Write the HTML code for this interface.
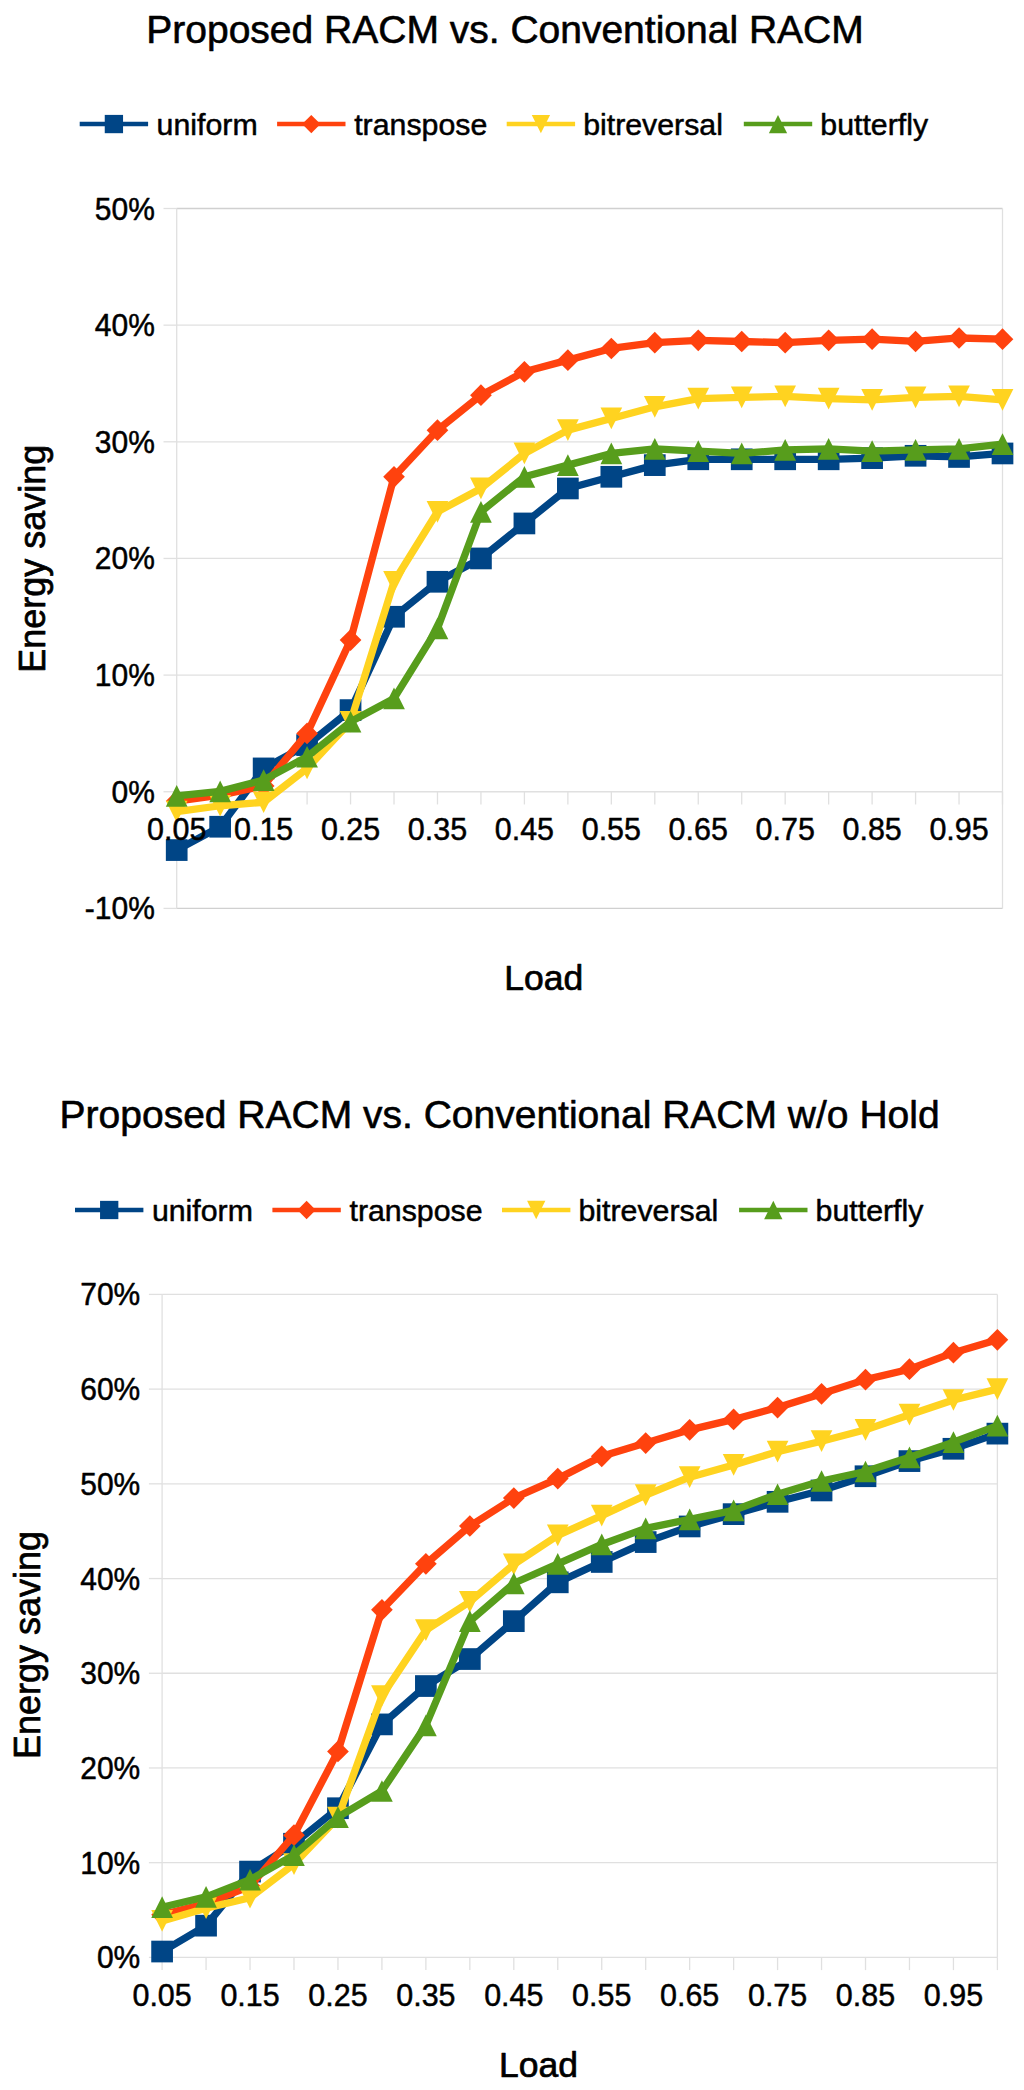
<!DOCTYPE html>
<html><head><meta charset="utf-8"><title>Energy saving charts</title>
<style>html,body{margin:0;padding:0;background:#fff}svg{display:block}text{font-family:"Liberation Sans",sans-serif;fill:#000;stroke:#000;stroke-width:0.5px;stroke-linejoin:round}.tt{stroke-width:0.6px}.ax{stroke-width:0.7px}</style>
</head><body>
<svg width="1024" height="2090" viewBox="0 0 1024 2090">
<rect width="1024" height="2090" fill="#fff"/>
<text x="505" y="42.6" font-size="39.0" class="tt" text-anchor="middle">Proposed RACM vs. Conventional RACM</text>
<line x1="163.5" y1="908.4" x2="176.7" y2="908.4" stroke="#e0e0e0" stroke-width="1.3"/>
<line x1="176.7" y1="908.4" x2="1002.5" y2="908.4" stroke="#d0d0d0" stroke-width="1.3"/>
<text transform="translate(154.8,919.4) scale(0.94,1)" font-size="31.9" text-anchor="end">-10%</text>
<line x1="163.5" y1="791.75" x2="176.7" y2="791.75" stroke="#e0e0e0" stroke-width="1.3"/>
<line x1="176.7" y1="791.75" x2="1002.5" y2="791.75" stroke="#e0e0e0" stroke-width="1.3"/>
<text transform="translate(154.8,802.75) scale(0.94,1)" font-size="31.9" text-anchor="end">0%</text>
<line x1="163.5" y1="675.1" x2="176.7" y2="675.1" stroke="#e0e0e0" stroke-width="1.3"/>
<line x1="176.7" y1="675.1" x2="1002.5" y2="675.1" stroke="#e0e0e0" stroke-width="1.3"/>
<text transform="translate(154.8,686.1) scale(0.94,1)" font-size="31.9" text-anchor="end">10%</text>
<line x1="163.5" y1="558.45" x2="176.7" y2="558.45" stroke="#e0e0e0" stroke-width="1.3"/>
<line x1="176.7" y1="558.45" x2="1002.5" y2="558.45" stroke="#e0e0e0" stroke-width="1.3"/>
<text transform="translate(154.8,569.45) scale(0.94,1)" font-size="31.9" text-anchor="end">20%</text>
<line x1="163.5" y1="441.8" x2="176.7" y2="441.8" stroke="#e0e0e0" stroke-width="1.3"/>
<line x1="176.7" y1="441.8" x2="1002.5" y2="441.8" stroke="#e0e0e0" stroke-width="1.3"/>
<text transform="translate(154.8,452.8) scale(0.94,1)" font-size="31.9" text-anchor="end">30%</text>
<line x1="163.5" y1="325.15" x2="176.7" y2="325.15" stroke="#e0e0e0" stroke-width="1.3"/>
<line x1="176.7" y1="325.15" x2="1002.5" y2="325.15" stroke="#e0e0e0" stroke-width="1.3"/>
<text transform="translate(154.8,336.15) scale(0.94,1)" font-size="31.9" text-anchor="end">40%</text>
<line x1="163.5" y1="208.5" x2="176.7" y2="208.5" stroke="#e0e0e0" stroke-width="1.3"/>
<line x1="176.7" y1="208.5" x2="1002.5" y2="208.5" stroke="#d0d0d0" stroke-width="1.3"/>
<text transform="translate(154.8,219.5) scale(0.94,1)" font-size="31.9" text-anchor="end">50%</text>
<line x1="176.7" y1="208.5" x2="176.7" y2="908.4" stroke="#e0e0e0" stroke-width="1.3"/>
<line x1="1002.5" y1="208.5" x2="1002.5" y2="908.4" stroke="#e0e0e0" stroke-width="1.3"/>
<line x1="176.7" y1="791.75" x2="176.7" y2="804.45" stroke="#e0e0e0" stroke-width="1.3"/>
<line x1="220.16" y1="791.75" x2="220.16" y2="804.45" stroke="#e0e0e0" stroke-width="1.3"/>
<line x1="263.63" y1="791.75" x2="263.63" y2="804.45" stroke="#e0e0e0" stroke-width="1.3"/>
<line x1="307.09" y1="791.75" x2="307.09" y2="804.45" stroke="#e0e0e0" stroke-width="1.3"/>
<line x1="350.55" y1="791.75" x2="350.55" y2="804.45" stroke="#e0e0e0" stroke-width="1.3"/>
<line x1="394.02" y1="791.75" x2="394.02" y2="804.45" stroke="#e0e0e0" stroke-width="1.3"/>
<line x1="437.48" y1="791.75" x2="437.48" y2="804.45" stroke="#e0e0e0" stroke-width="1.3"/>
<line x1="480.94" y1="791.75" x2="480.94" y2="804.45" stroke="#e0e0e0" stroke-width="1.3"/>
<line x1="524.41" y1="791.75" x2="524.41" y2="804.45" stroke="#e0e0e0" stroke-width="1.3"/>
<line x1="567.87" y1="791.75" x2="567.87" y2="804.45" stroke="#e0e0e0" stroke-width="1.3"/>
<line x1="611.33" y1="791.75" x2="611.33" y2="804.45" stroke="#e0e0e0" stroke-width="1.3"/>
<line x1="654.79" y1="791.75" x2="654.79" y2="804.45" stroke="#e0e0e0" stroke-width="1.3"/>
<line x1="698.26" y1="791.75" x2="698.26" y2="804.45" stroke="#e0e0e0" stroke-width="1.3"/>
<line x1="741.72" y1="791.75" x2="741.72" y2="804.45" stroke="#e0e0e0" stroke-width="1.3"/>
<line x1="785.18" y1="791.75" x2="785.18" y2="804.45" stroke="#e0e0e0" stroke-width="1.3"/>
<line x1="828.65" y1="791.75" x2="828.65" y2="804.45" stroke="#e0e0e0" stroke-width="1.3"/>
<line x1="872.11" y1="791.75" x2="872.11" y2="804.45" stroke="#e0e0e0" stroke-width="1.3"/>
<line x1="915.57" y1="791.75" x2="915.57" y2="804.45" stroke="#e0e0e0" stroke-width="1.3"/>
<line x1="959.04" y1="791.75" x2="959.04" y2="804.45" stroke="#e0e0e0" stroke-width="1.3"/>
<line x1="1002.5" y1="791.75" x2="1002.5" y2="804.45" stroke="#e0e0e0" stroke-width="1.3"/>
<text x="543.8" y="989.7" font-size="35.5" class="ax" text-anchor="middle">Load</text>
<text transform="translate(44.6,558.8) rotate(-90)" font-size="36.0" class="ax" text-anchor="middle">Energy saving</text>
<line x1="79.7" y1="124.05" x2="148.10000000000002" y2="124.05" stroke="#004586" stroke-width="4.6"/>
<rect x="104.75" y="114.9" width="18.3" height="18.3" fill="#004586"/>
<text x="156.6" y="134.8" font-size="30.3">uniform</text>
<line x1="277.1" y1="124.05" x2="345.5" y2="124.05" stroke="#ff420e" stroke-width="4.6"/>
<polygon points="311.3,114.9 320.45,124.05 311.3,133.2 302.15,124.05" fill="#ff420e"/>
<text x="354.2" y="134.8" font-size="30.3">transpose</text>
<line x1="506.7" y1="124.05" x2="575.1" y2="124.05" stroke="#ffd320" stroke-width="4.6"/>
<polygon points="531.75,114.9 550.05,114.9 540.9,133.2" fill="#ffd320"/>
<text x="583.2" y="134.8" font-size="30.3">bitreversal</text>
<line x1="743.8" y1="124.05" x2="812.1999999999999" y2="124.05" stroke="#579d1c" stroke-width="4.6"/>
<polygon points="768.85,133.2 787.15,133.2 778,114.9" fill="#579d1c"/>
<text x="820.3" y="134.8" font-size="30.3">butterfly</text>
<polyline points="176.7,850.07 220.16,826.75 263.63,768.42 307.09,745.09 350.55,710.1 394.02,616.77 437.48,581.78 480.94,558.45 524.41,523.45 567.87,488.46 611.33,476.79 654.79,465.13 698.26,459.3 741.72,459.3 785.18,459.3 828.65,459.3 872.11,458.13 915.57,455.8 959.04,456.96 1002.5,453.46" fill="none" stroke="#004586" stroke-width="7.3" stroke-linejoin="round" stroke-linecap="round"/>
<rect x="165.85" y="839.22" width="21.7" height="21.7" fill="#004586"/>
<rect x="209.31" y="815.89" width="21.7" height="21.7" fill="#004586"/>
<rect x="252.78" y="757.57" width="21.7" height="21.7" fill="#004586"/>
<rect x="296.24" y="734.24" width="21.7" height="21.7" fill="#004586"/>
<rect x="339.7" y="699.25" width="21.7" height="21.7" fill="#004586"/>
<rect x="383.17" y="605.92" width="21.7" height="21.7" fill="#004586"/>
<rect x="426.63" y="570.93" width="21.7" height="21.7" fill="#004586"/>
<rect x="470.09" y="547.6" width="21.7" height="21.7" fill="#004586"/>
<rect x="513.56" y="512.6" width="21.7" height="21.7" fill="#004586"/>
<rect x="557.02" y="477.61" width="21.7" height="21.7" fill="#004586"/>
<rect x="600.48" y="465.94" width="21.7" height="21.7" fill="#004586"/>
<rect x="643.94" y="454.28" width="21.7" height="21.7" fill="#004586"/>
<rect x="687.41" y="448.45" width="21.7" height="21.7" fill="#004586"/>
<rect x="730.87" y="448.45" width="21.7" height="21.7" fill="#004586"/>
<rect x="774.33" y="448.45" width="21.7" height="21.7" fill="#004586"/>
<rect x="817.8" y="448.45" width="21.7" height="21.7" fill="#004586"/>
<rect x="861.26" y="447.28" width="21.7" height="21.7" fill="#004586"/>
<rect x="904.72" y="444.95" width="21.7" height="21.7" fill="#004586"/>
<rect x="948.19" y="446.11" width="21.7" height="21.7" fill="#004586"/>
<rect x="991.65" y="442.61" width="21.7" height="21.7" fill="#004586"/>
<polyline points="176.7,801.08 220.16,795.25 263.63,785.92 307.09,733.42 350.55,640.11 394.02,476.79 437.48,430.13 480.94,395.14 524.41,371.81 567.87,360.14 611.33,348.48 654.79,342.65 698.26,340.31 741.72,341.48 785.18,342.65 828.65,340.31 872.11,339.15 915.57,341.48 959.04,337.98 1002.5,339.15" fill="none" stroke="#ff420e" stroke-width="7.3" stroke-linejoin="round" stroke-linecap="round"/>
<polygon points="176.7,790.23 187.55,801.08 176.7,811.93 165.85,801.08" fill="#ff420e"/>
<polygon points="220.16,784.4 231.01,795.25 220.16,806.1 209.31,795.25" fill="#ff420e"/>
<polygon points="263.63,775.07 274.48,785.92 263.63,796.77 252.78,785.92" fill="#ff420e"/>
<polygon points="307.09,722.57 317.94,733.42 307.09,744.27 296.24,733.42" fill="#ff420e"/>
<polygon points="350.55,629.25 361.4,640.11 350.55,650.96 339.7,640.11" fill="#ff420e"/>
<polygon points="394.02,465.94 404.87,476.79 394.02,487.64 383.17,476.79" fill="#ff420e"/>
<polygon points="437.48,419.28 448.33,430.13 437.48,440.99 426.63,430.13" fill="#ff420e"/>
<polygon points="480.94,384.29 491.79,395.14 480.94,405.99 470.09,395.14" fill="#ff420e"/>
<polygon points="524.41,360.96 535.26,371.81 524.41,382.66 513.56,371.81" fill="#ff420e"/>
<polygon points="567.87,349.29 578.72,360.14 567.87,371 557.02,360.14" fill="#ff420e"/>
<polygon points="611.33,337.63 622.18,348.48 611.33,359.33 600.48,348.48" fill="#ff420e"/>
<polygon points="654.79,331.8 665.64,342.65 654.79,353.5 643.94,342.65" fill="#ff420e"/>
<polygon points="698.26,329.46 709.11,340.31 698.26,351.16 687.41,340.31" fill="#ff420e"/>
<polygon points="741.72,330.63 752.57,341.48 741.72,352.33 730.87,341.48" fill="#ff420e"/>
<polygon points="785.18,331.8 796.03,342.65 785.18,353.5 774.33,342.65" fill="#ff420e"/>
<polygon points="828.65,329.46 839.5,340.31 828.65,351.16 817.8,340.31" fill="#ff420e"/>
<polygon points="872.11,328.3 882.96,339.15 872.11,350 861.26,339.15" fill="#ff420e"/>
<polygon points="915.57,330.63 926.42,341.48 915.57,352.33 904.72,341.48" fill="#ff420e"/>
<polygon points="959.04,327.13 969.89,337.98 959.04,348.83 948.19,337.98" fill="#ff420e"/>
<polygon points="1002.5,328.3 1013.35,339.15 1002.5,350 991.65,339.15" fill="#ff420e"/>
<polyline points="176.7,811.58 220.16,805.75 263.63,802.25 307.09,768.42 350.55,721.76 394.02,581.78 437.48,511.79 480.94,488.46 524.41,453.46 567.87,430.13 611.33,418.47 654.79,406.81 698.26,398.64 741.72,397.47 785.18,396.31 828.65,398.64 872.11,399.81 915.57,397.47 959.04,396.31 1002.5,399.81" fill="none" stroke="#ffd320" stroke-width="7.3" stroke-linejoin="round" stroke-linecap="round"/>
<polygon points="165.85,800.73 187.55,800.73 176.7,822.43" fill="#ffd320"/>
<polygon points="209.31,794.9 231.01,794.9 220.16,816.6" fill="#ffd320"/>
<polygon points="252.78,791.4 274.48,791.4 263.63,813.1" fill="#ffd320"/>
<polygon points="296.24,757.57 317.94,757.57 307.09,779.27" fill="#ffd320"/>
<polygon points="339.7,710.91 361.4,710.91 350.55,732.61" fill="#ffd320"/>
<polygon points="383.17,570.93 404.87,570.93 394.02,592.63" fill="#ffd320"/>
<polygon points="426.63,500.94 448.33,500.94 437.48,522.64" fill="#ffd320"/>
<polygon points="470.09,477.61 491.79,477.61 480.94,499.31" fill="#ffd320"/>
<polygon points="513.56,442.61 535.26,442.61 524.41,464.31" fill="#ffd320"/>
<polygon points="557.02,419.28 578.72,419.28 567.87,440.99" fill="#ffd320"/>
<polygon points="600.48,407.62 622.18,407.62 611.33,429.32" fill="#ffd320"/>
<polygon points="643.94,395.95 665.64,395.95 654.79,417.66" fill="#ffd320"/>
<polygon points="687.41,387.79 709.11,387.79 698.26,409.49" fill="#ffd320"/>
<polygon points="730.87,386.62 752.57,386.62 741.72,408.32" fill="#ffd320"/>
<polygon points="774.33,385.46 796.03,385.46 785.18,407.16" fill="#ffd320"/>
<polygon points="817.8,387.79 839.5,387.79 828.65,409.49" fill="#ffd320"/>
<polygon points="861.26,388.96 882.96,388.96 872.11,410.66" fill="#ffd320"/>
<polygon points="904.72,386.62 926.42,386.62 915.57,408.32" fill="#ffd320"/>
<polygon points="948.19,385.46 969.89,385.46 959.04,407.16" fill="#ffd320"/>
<polygon points="991.65,388.96 1013.35,388.96 1002.5,410.66" fill="#ffd320"/>
<polyline points="176.7,795.83 220.16,791.4 263.63,780.09 307.09,756.75 350.55,721.76 394.02,698.43 437.48,628.44 480.94,511.79 524.41,476.79 567.87,465.13 611.33,453.46 654.79,448.8 698.26,451.13 741.72,453.46 785.18,449.97 828.65,448.8 872.11,451.13 915.57,449.97 959.04,448.8 1002.5,444.13" fill="none" stroke="#579d1c" stroke-width="7.3" stroke-linejoin="round" stroke-linecap="round"/>
<polygon points="165.85,806.68 187.55,806.68 176.7,784.98" fill="#579d1c"/>
<polygon points="209.31,802.25 231.01,802.25 220.16,780.55" fill="#579d1c"/>
<polygon points="252.78,790.94 274.48,790.94 263.63,769.24" fill="#579d1c"/>
<polygon points="296.24,767.61 317.94,767.61 307.09,745.9" fill="#579d1c"/>
<polygon points="339.7,732.61 361.4,732.61 350.55,710.91" fill="#579d1c"/>
<polygon points="383.17,709.28 404.87,709.28 394.02,687.58" fill="#579d1c"/>
<polygon points="426.63,639.29 448.33,639.29 437.48,617.59" fill="#579d1c"/>
<polygon points="470.09,522.64 491.79,522.64 480.94,500.94" fill="#579d1c"/>
<polygon points="513.56,487.64 535.26,487.64 524.41,465.94" fill="#579d1c"/>
<polygon points="557.02,475.98 578.72,475.98 567.87,454.28" fill="#579d1c"/>
<polygon points="600.48,464.31 622.18,464.31 611.33,442.61" fill="#579d1c"/>
<polygon points="643.94,459.65 665.64,459.65 654.79,437.95" fill="#579d1c"/>
<polygon points="687.41,461.98 709.11,461.98 698.26,440.28" fill="#579d1c"/>
<polygon points="730.87,464.31 752.57,464.31 741.72,442.61" fill="#579d1c"/>
<polygon points="774.33,460.82 796.03,460.82 785.18,439.12" fill="#579d1c"/>
<polygon points="817.8,459.65 839.5,459.65 828.65,437.95" fill="#579d1c"/>
<polygon points="861.26,461.98 882.96,461.98 872.11,440.28" fill="#579d1c"/>
<polygon points="904.72,460.82 926.42,460.82 915.57,439.12" fill="#579d1c"/>
<polygon points="948.19,459.65 969.89,459.65 959.04,437.95" fill="#579d1c"/>
<polygon points="991.65,454.98 1013.35,454.98 1002.5,433.28" fill="#579d1c"/>
<text transform="translate(176.7,840.15) scale(0.955,1)" font-size="31.9" text-anchor="middle">0.05</text>
<text transform="translate(263.63,840.15) scale(0.955,1)" font-size="31.9" text-anchor="middle">0.15</text>
<text transform="translate(350.55,840.15) scale(0.955,1)" font-size="31.9" text-anchor="middle">0.25</text>
<text transform="translate(437.48,840.15) scale(0.955,1)" font-size="31.9" text-anchor="middle">0.35</text>
<text transform="translate(524.41,840.15) scale(0.955,1)" font-size="31.9" text-anchor="middle">0.45</text>
<text transform="translate(611.33,840.15) scale(0.955,1)" font-size="31.9" text-anchor="middle">0.55</text>
<text transform="translate(698.26,840.15) scale(0.955,1)" font-size="31.9" text-anchor="middle">0.65</text>
<text transform="translate(785.18,840.15) scale(0.955,1)" font-size="31.9" text-anchor="middle">0.75</text>
<text transform="translate(872.11,840.15) scale(0.955,1)" font-size="31.9" text-anchor="middle">0.85</text>
<text transform="translate(959.04,840.15) scale(0.955,1)" font-size="31.9" text-anchor="middle">0.95</text>
<text x="499.6" y="1128.4" font-size="39.0" class="tt" text-anchor="middle">Proposed RACM vs. Conventional RACM w/o Hold</text>
<line x1="148.9" y1="1957.4" x2="162.1" y2="1957.4" stroke="#e0e0e0" stroke-width="1.3"/>
<line x1="162.1" y1="1957.4" x2="997.4" y2="1957.4" stroke="#e0e0e0" stroke-width="1.3"/>
<text transform="translate(140.2,1968.4) scale(0.94,1)" font-size="31.9" text-anchor="end">0%</text>
<line x1="148.9" y1="1862.69" x2="162.1" y2="1862.69" stroke="#e0e0e0" stroke-width="1.3"/>
<line x1="162.1" y1="1862.69" x2="997.4" y2="1862.69" stroke="#e0e0e0" stroke-width="1.3"/>
<text transform="translate(140.2,1873.69) scale(0.94,1)" font-size="31.9" text-anchor="end">10%</text>
<line x1="148.9" y1="1767.97" x2="162.1" y2="1767.97" stroke="#e0e0e0" stroke-width="1.3"/>
<line x1="162.1" y1="1767.97" x2="997.4" y2="1767.97" stroke="#e0e0e0" stroke-width="1.3"/>
<text transform="translate(140.2,1778.97) scale(0.94,1)" font-size="31.9" text-anchor="end">20%</text>
<line x1="148.9" y1="1673.26" x2="162.1" y2="1673.26" stroke="#e0e0e0" stroke-width="1.3"/>
<line x1="162.1" y1="1673.26" x2="997.4" y2="1673.26" stroke="#e0e0e0" stroke-width="1.3"/>
<text transform="translate(140.2,1684.26) scale(0.94,1)" font-size="31.9" text-anchor="end">30%</text>
<line x1="148.9" y1="1578.54" x2="162.1" y2="1578.54" stroke="#e0e0e0" stroke-width="1.3"/>
<line x1="162.1" y1="1578.54" x2="997.4" y2="1578.54" stroke="#e0e0e0" stroke-width="1.3"/>
<text transform="translate(140.2,1589.54) scale(0.94,1)" font-size="31.9" text-anchor="end">40%</text>
<line x1="148.9" y1="1483.83" x2="162.1" y2="1483.83" stroke="#e0e0e0" stroke-width="1.3"/>
<line x1="162.1" y1="1483.83" x2="997.4" y2="1483.83" stroke="#e0e0e0" stroke-width="1.3"/>
<text transform="translate(140.2,1494.83) scale(0.94,1)" font-size="31.9" text-anchor="end">50%</text>
<line x1="148.9" y1="1389.11" x2="162.1" y2="1389.11" stroke="#e0e0e0" stroke-width="1.3"/>
<line x1="162.1" y1="1389.11" x2="997.4" y2="1389.11" stroke="#e0e0e0" stroke-width="1.3"/>
<text transform="translate(140.2,1400.11) scale(0.94,1)" font-size="31.9" text-anchor="end">60%</text>
<line x1="148.9" y1="1294.4" x2="162.1" y2="1294.4" stroke="#e0e0e0" stroke-width="1.3"/>
<line x1="162.1" y1="1294.4" x2="997.4" y2="1294.4" stroke="#e0e0e0" stroke-width="1.3"/>
<text transform="translate(140.2,1305.4) scale(0.94,1)" font-size="31.9" text-anchor="end">70%</text>
<line x1="162.1" y1="1294.4" x2="162.1" y2="1957.4" stroke="#e0e0e0" stroke-width="1.3"/>
<line x1="997.4" y1="1294.4" x2="997.4" y2="1957.4" stroke="#e0e0e0" stroke-width="1.3"/>
<line x1="162.1" y1="1957.4" x2="162.1" y2="1970.1" stroke="#e0e0e0" stroke-width="1.3"/>
<line x1="206.06" y1="1957.4" x2="206.06" y2="1970.1" stroke="#e0e0e0" stroke-width="1.3"/>
<line x1="250.03" y1="1957.4" x2="250.03" y2="1970.1" stroke="#e0e0e0" stroke-width="1.3"/>
<line x1="293.99" y1="1957.4" x2="293.99" y2="1970.1" stroke="#e0e0e0" stroke-width="1.3"/>
<line x1="337.95" y1="1957.4" x2="337.95" y2="1970.1" stroke="#e0e0e0" stroke-width="1.3"/>
<line x1="381.92" y1="1957.4" x2="381.92" y2="1970.1" stroke="#e0e0e0" stroke-width="1.3"/>
<line x1="425.88" y1="1957.4" x2="425.88" y2="1970.1" stroke="#e0e0e0" stroke-width="1.3"/>
<line x1="469.84" y1="1957.4" x2="469.84" y2="1970.1" stroke="#e0e0e0" stroke-width="1.3"/>
<line x1="513.81" y1="1957.4" x2="513.81" y2="1970.1" stroke="#e0e0e0" stroke-width="1.3"/>
<line x1="557.77" y1="1957.4" x2="557.77" y2="1970.1" stroke="#e0e0e0" stroke-width="1.3"/>
<line x1="601.73" y1="1957.4" x2="601.73" y2="1970.1" stroke="#e0e0e0" stroke-width="1.3"/>
<line x1="645.69" y1="1957.4" x2="645.69" y2="1970.1" stroke="#e0e0e0" stroke-width="1.3"/>
<line x1="689.66" y1="1957.4" x2="689.66" y2="1970.1" stroke="#e0e0e0" stroke-width="1.3"/>
<line x1="733.62" y1="1957.4" x2="733.62" y2="1970.1" stroke="#e0e0e0" stroke-width="1.3"/>
<line x1="777.58" y1="1957.4" x2="777.58" y2="1970.1" stroke="#e0e0e0" stroke-width="1.3"/>
<line x1="821.55" y1="1957.4" x2="821.55" y2="1970.1" stroke="#e0e0e0" stroke-width="1.3"/>
<line x1="865.51" y1="1957.4" x2="865.51" y2="1970.1" stroke="#e0e0e0" stroke-width="1.3"/>
<line x1="909.47" y1="1957.4" x2="909.47" y2="1970.1" stroke="#e0e0e0" stroke-width="1.3"/>
<line x1="953.44" y1="1957.4" x2="953.44" y2="1970.1" stroke="#e0e0e0" stroke-width="1.3"/>
<line x1="997.4" y1="1957.4" x2="997.4" y2="1970.1" stroke="#e0e0e0" stroke-width="1.3"/>
<text x="538.6" y="2076.6" font-size="35.5" class="ax" text-anchor="middle">Load</text>
<text transform="translate(39.6,1645) rotate(-90)" font-size="36.0" class="ax" text-anchor="middle">Energy saving</text>
<line x1="75" y1="1210" x2="143.4" y2="1210" stroke="#004586" stroke-width="4.6"/>
<rect x="100.05" y="1200.85" width="18.3" height="18.3" fill="#004586"/>
<text x="151.9" y="1220.8" font-size="30.3">uniform</text>
<line x1="272.4" y1="1210" x2="340.79999999999995" y2="1210" stroke="#ff420e" stroke-width="4.6"/>
<polygon points="306.6,1200.85 315.75,1210 306.6,1219.15 297.45,1210" fill="#ff420e"/>
<text x="349.5" y="1220.8" font-size="30.3">transpose</text>
<line x1="502" y1="1210" x2="570.4" y2="1210" stroke="#ffd320" stroke-width="4.6"/>
<polygon points="527.05,1200.85 545.35,1200.85 536.2,1219.15" fill="#ffd320"/>
<text x="578.5" y="1220.8" font-size="30.3">bitreversal</text>
<line x1="739.1" y1="1210" x2="807.5" y2="1210" stroke="#579d1c" stroke-width="4.6"/>
<polygon points="764.15,1219.15 782.45,1219.15 773.3,1200.85" fill="#579d1c"/>
<text x="815.6" y="1220.8" font-size="30.3">butterfly</text>
<polyline points="162.1,1951.53 206.06,1925.67 250.03,1871.59 293.99,1843.74 337.95,1808.23 381.92,1724.4 425.88,1686.04 469.84,1659.05 513.81,1621.16 557.77,1582.33 601.73,1561.97 645.69,1542.08 689.66,1526.45 733.62,1514.14 777.58,1501.82 821.55,1490.46 865.51,1476.25 909.47,1461.1 953.44,1448.78 997.4,1433.63" fill="none" stroke="#004586" stroke-width="7.3" stroke-linejoin="round" stroke-linecap="round"/>
<rect x="151.25" y="1940.68" width="21.7" height="21.7" fill="#004586"/>
<rect x="195.21" y="1914.82" width="21.7" height="21.7" fill="#004586"/>
<rect x="239.18" y="1860.74" width="21.7" height="21.7" fill="#004586"/>
<rect x="283.14" y="1832.89" width="21.7" height="21.7" fill="#004586"/>
<rect x="327.1" y="1797.38" width="21.7" height="21.7" fill="#004586"/>
<rect x="371.07" y="1713.55" width="21.7" height="21.7" fill="#004586"/>
<rect x="415.03" y="1675.19" width="21.7" height="21.7" fill="#004586"/>
<rect x="458.99" y="1648.2" width="21.7" height="21.7" fill="#004586"/>
<rect x="502.96" y="1610.31" width="21.7" height="21.7" fill="#004586"/>
<rect x="546.92" y="1571.48" width="21.7" height="21.7" fill="#004586"/>
<rect x="590.88" y="1551.12" width="21.7" height="21.7" fill="#004586"/>
<rect x="634.84" y="1531.23" width="21.7" height="21.7" fill="#004586"/>
<rect x="678.81" y="1515.6" width="21.7" height="21.7" fill="#004586"/>
<rect x="722.77" y="1503.29" width="21.7" height="21.7" fill="#004586"/>
<rect x="766.73" y="1490.97" width="21.7" height="21.7" fill="#004586"/>
<rect x="810.7" y="1479.61" width="21.7" height="21.7" fill="#004586"/>
<rect x="854.66" y="1465.4" width="21.7" height="21.7" fill="#004586"/>
<rect x="898.62" y="1450.25" width="21.7" height="21.7" fill="#004586"/>
<rect x="942.59" y="1437.93" width="21.7" height="21.7" fill="#004586"/>
<rect x="986.55" y="1422.78" width="21.7" height="21.7" fill="#004586"/>
<polyline points="162.1,1914.78 206.06,1903.41 250.03,1886.36 293.99,1835.22 337.95,1751.4 381.92,1609.8 425.88,1563.86 469.84,1525.98 513.81,1498.04 557.77,1478.62 601.73,1456.36 645.69,1443.1 689.66,1429.84 733.62,1419.42 777.58,1407.58 821.55,1393.85 865.51,1379.64 909.47,1369.22 953.44,1352.65 997.4,1339.86" fill="none" stroke="#ff420e" stroke-width="7.3" stroke-linejoin="round" stroke-linecap="round"/>
<polygon points="162.1,1903.93 172.95,1914.78 162.1,1925.63 151.25,1914.78" fill="#ff420e"/>
<polygon points="206.06,1892.56 216.91,1903.41 206.06,1914.26 195.21,1903.41" fill="#ff420e"/>
<polygon points="250.03,1875.51 260.88,1886.36 250.03,1897.21 239.18,1886.36" fill="#ff420e"/>
<polygon points="293.99,1824.37 304.84,1835.22 293.99,1846.07 283.14,1835.22" fill="#ff420e"/>
<polygon points="337.95,1740.55 348.8,1751.4 337.95,1762.25 327.1,1751.4" fill="#ff420e"/>
<polygon points="381.92,1598.95 392.77,1609.8 381.92,1620.65 371.07,1609.8" fill="#ff420e"/>
<polygon points="425.88,1553.01 436.73,1563.86 425.88,1574.71 415.03,1563.86" fill="#ff420e"/>
<polygon points="469.84,1515.13 480.69,1525.98 469.84,1536.83 458.99,1525.98" fill="#ff420e"/>
<polygon points="513.81,1487.19 524.66,1498.04 513.81,1508.89 502.96,1498.04" fill="#ff420e"/>
<polygon points="557.77,1467.77 568.62,1478.62 557.77,1489.47 546.92,1478.62" fill="#ff420e"/>
<polygon points="601.73,1445.51 612.58,1456.36 601.73,1467.21 590.88,1456.36" fill="#ff420e"/>
<polygon points="645.69,1432.25 656.54,1443.1 645.69,1453.95 634.84,1443.1" fill="#ff420e"/>
<polygon points="689.66,1418.99 700.51,1429.84 689.66,1440.69 678.81,1429.84" fill="#ff420e"/>
<polygon points="733.62,1408.57 744.47,1419.42 733.62,1430.27 722.77,1419.42" fill="#ff420e"/>
<polygon points="777.58,1396.73 788.43,1407.58 777.58,1418.43 766.73,1407.58" fill="#ff420e"/>
<polygon points="821.55,1383 832.4,1393.85 821.55,1404.7 810.7,1393.85" fill="#ff420e"/>
<polygon points="865.51,1368.79 876.36,1379.64 865.51,1390.49 854.66,1379.64" fill="#ff420e"/>
<polygon points="909.47,1358.37 920.32,1369.22 909.47,1380.07 898.62,1369.22" fill="#ff420e"/>
<polygon points="953.44,1341.8 964.29,1352.65 953.44,1363.5 942.59,1352.65" fill="#ff420e"/>
<polygon points="997.4,1329.01 1008.25,1339.86 997.4,1350.71 986.55,1339.86" fill="#ff420e"/>
<polyline points="162.1,1920.94 206.06,1908.15 250.03,1897.73 293.99,1864.11 337.95,1817.7 381.92,1695.99 425.88,1630.16 469.84,1601.75 513.81,1564.34 557.77,1535.45 601.73,1515.56 645.69,1495.19 689.66,1477.2 733.62,1464.89 777.58,1451.63 821.55,1441.21 865.51,1429.84 909.47,1414.69 953.44,1400.01 997.4,1389.11" fill="none" stroke="#ffd320" stroke-width="7.3" stroke-linejoin="round" stroke-linecap="round"/>
<polygon points="151.25,1910.09 172.95,1910.09 162.1,1931.79" fill="#ffd320"/>
<polygon points="195.21,1897.3 216.91,1897.3 206.06,1919" fill="#ffd320"/>
<polygon points="239.18,1886.88 260.88,1886.88 250.03,1908.58" fill="#ffd320"/>
<polygon points="283.14,1853.26 304.84,1853.26 293.99,1874.96" fill="#ffd320"/>
<polygon points="327.1,1806.85 348.8,1806.85 337.95,1828.55" fill="#ffd320"/>
<polygon points="371.07,1685.14 392.77,1685.14 381.92,1706.84" fill="#ffd320"/>
<polygon points="415.03,1619.31 436.73,1619.31 425.88,1641.01" fill="#ffd320"/>
<polygon points="458.99,1590.9 480.69,1590.9 469.84,1612.6" fill="#ffd320"/>
<polygon points="502.96,1553.49 524.66,1553.49 513.81,1575.19" fill="#ffd320"/>
<polygon points="546.92,1524.6 568.62,1524.6 557.77,1546.3" fill="#ffd320"/>
<polygon points="590.88,1504.71 612.58,1504.71 601.73,1526.41" fill="#ffd320"/>
<polygon points="634.84,1484.34 656.54,1484.34 645.69,1506.04" fill="#ffd320"/>
<polygon points="678.81,1466.35 700.51,1466.35 689.66,1488.05" fill="#ffd320"/>
<polygon points="722.77,1454.04 744.47,1454.04 733.62,1475.74" fill="#ffd320"/>
<polygon points="766.73,1440.78 788.43,1440.78 777.58,1462.48" fill="#ffd320"/>
<polygon points="810.7,1430.36 832.4,1430.36 821.55,1452.06" fill="#ffd320"/>
<polygon points="854.66,1418.99 876.36,1418.99 865.51,1440.69" fill="#ffd320"/>
<polygon points="898.62,1403.84 920.32,1403.84 909.47,1425.54" fill="#ffd320"/>
<polygon points="942.59,1389.16 964.29,1389.16 953.44,1410.86" fill="#ffd320"/>
<polygon points="986.55,1378.26 1008.25,1378.26 997.4,1399.96" fill="#ffd320"/>
<polyline points="162.1,1907.2 206.06,1896.78 250.03,1879.73 293.99,1855.11 337.95,1817.22 381.92,1790.99 425.88,1725.35 469.84,1621.16 513.81,1583.28 557.77,1563.86 601.73,1544.45 645.69,1528.34 689.66,1519.35 733.62,1510.35 777.58,1494.25 821.55,1480.99 865.51,1471.52 909.47,1457.31 953.44,1442.15 997.4,1425.58" fill="none" stroke="#579d1c" stroke-width="7.3" stroke-linejoin="round" stroke-linecap="round"/>
<polygon points="151.25,1918.05 172.95,1918.05 162.1,1896.35" fill="#579d1c"/>
<polygon points="195.21,1907.63 216.91,1907.63 206.06,1885.93" fill="#579d1c"/>
<polygon points="239.18,1890.58 260.88,1890.58 250.03,1868.88" fill="#579d1c"/>
<polygon points="283.14,1865.96 304.84,1865.96 293.99,1844.26" fill="#579d1c"/>
<polygon points="327.1,1828.07 348.8,1828.07 337.95,1806.37" fill="#579d1c"/>
<polygon points="371.07,1801.84 392.77,1801.84 381.92,1780.14" fill="#579d1c"/>
<polygon points="415.03,1736.2 436.73,1736.2 425.88,1714.5" fill="#579d1c"/>
<polygon points="458.99,1632.01 480.69,1632.01 469.84,1610.31" fill="#579d1c"/>
<polygon points="502.96,1594.13 524.66,1594.13 513.81,1572.43" fill="#579d1c"/>
<polygon points="546.92,1574.71 568.62,1574.71 557.77,1553.01" fill="#579d1c"/>
<polygon points="590.88,1555.3 612.58,1555.3 601.73,1533.6" fill="#579d1c"/>
<polygon points="634.84,1539.19 656.54,1539.19 645.69,1517.49" fill="#579d1c"/>
<polygon points="678.81,1530.2 700.51,1530.2 689.66,1508.5" fill="#579d1c"/>
<polygon points="722.77,1521.2 744.47,1521.2 733.62,1499.5" fill="#579d1c"/>
<polygon points="766.73,1505.1 788.43,1505.1 777.58,1483.4" fill="#579d1c"/>
<polygon points="810.7,1491.84 832.4,1491.84 821.55,1470.14" fill="#579d1c"/>
<polygon points="854.66,1482.37 876.36,1482.37 865.51,1460.67" fill="#579d1c"/>
<polygon points="898.62,1468.16 920.32,1468.16 909.47,1446.46" fill="#579d1c"/>
<polygon points="942.59,1453 964.29,1453 953.44,1431.3" fill="#579d1c"/>
<polygon points="986.55,1436.43 1008.25,1436.43 997.4,1414.73" fill="#579d1c"/>
<text transform="translate(162.1,2005.8) scale(0.955,1)" font-size="31.9" text-anchor="middle">0.05</text>
<text transform="translate(250.03,2005.8) scale(0.955,1)" font-size="31.9" text-anchor="middle">0.15</text>
<text transform="translate(337.95,2005.8) scale(0.955,1)" font-size="31.9" text-anchor="middle">0.25</text>
<text transform="translate(425.88,2005.8) scale(0.955,1)" font-size="31.9" text-anchor="middle">0.35</text>
<text transform="translate(513.81,2005.8) scale(0.955,1)" font-size="31.9" text-anchor="middle">0.45</text>
<text transform="translate(601.73,2005.8) scale(0.955,1)" font-size="31.9" text-anchor="middle">0.55</text>
<text transform="translate(689.66,2005.8) scale(0.955,1)" font-size="31.9" text-anchor="middle">0.65</text>
<text transform="translate(777.58,2005.8) scale(0.955,1)" font-size="31.9" text-anchor="middle">0.75</text>
<text transform="translate(865.51,2005.8) scale(0.955,1)" font-size="31.9" text-anchor="middle">0.85</text>
<text transform="translate(953.44,2005.8) scale(0.955,1)" font-size="31.9" text-anchor="middle">0.95</text>
</svg>
</body></html>
